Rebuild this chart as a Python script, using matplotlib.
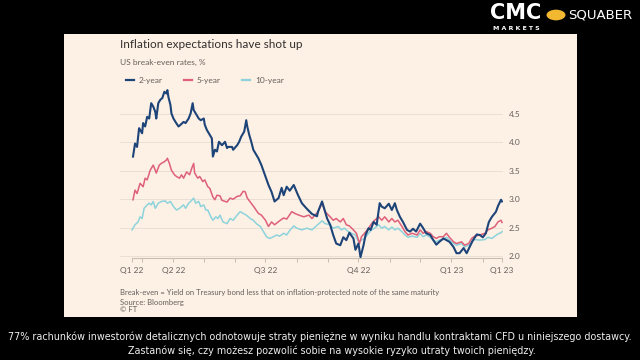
import numpy as np
import matplotlib
matplotlib.use('Agg')
import matplotlib.pyplot as plt
from matplotlib.patches import Rectangle, Circle

# US break-even rates (days after 19 Feb 2022, %)
start = np.datetime64('2022-02-19')

days_2y = [1, 3, 5, 7, 10, 11, 13, 15, 17, 19, 21, 23, 24, 26, 28, 30, 32, 34, 35, 36,
           38, 39, 41, 43, 46, 48, 51, 53, 56, 58, 60, 61, 63, 66, 68, 71, 72, 74, 77, 79,
           80, 82, 84, 86, 89, 92, 94, 95, 99, 100, 104, 106, 108, 111, 113, 114, 116, 118,
           120, 122, 125, 128, 132, 135, 138, 141, 145, 148, 150, 153, 156, 160, 164, 168,
           173, 178, 183, 184, 188, 190, 193, 196, 199, 202, 206, 209, 212, 215, 219, 221,
           224, 226, 229, 231, 234, 236, 239, 242, 245, 247, 250, 254, 257, 260, 262, 265,
           268, 272, 275, 278, 281, 285, 288, 291, 295, 298, 301, 304, 308, 311, 314, 318,
           321, 324, 328, 331, 334, 337, 341, 344, 347, 350, 353, 356, 360, 362, 365, 366]
rate_2y = [3.75, 3.98, 3.92, 4.25, 4.16, 4.34, 4.28, 4.45, 4.42, 4.69, 4.63, 4.54, 4.42,
           4.69, 4.75, 4.78, 4.89, 4.86, 4.92, 4.80, 4.66, 4.51, 4.42, 4.36, 4.28, 4.31,
           4.36, 4.34, 4.42, 4.51, 4.69, 4.57, 4.51, 4.42, 4.39, 4.42, 4.31, 4.22, 4.13,
           4.07, 3.75, 3.87, 3.84, 4.01, 3.95, 4.01, 3.90, 3.92, 3.92, 3.87, 3.95, 4.01,
           4.10, 4.19, 4.39, 4.28, 4.13, 4.01, 3.87, 3.81, 3.72, 3.60, 3.40, 3.25, 3.13,
           2.96, 3.02, 3.20, 3.07, 3.22, 3.15, 3.25, 3.08, 2.93, 2.83, 2.74, 2.70, 2.78,
           2.96, 2.84, 2.66, 2.55, 2.37, 2.22, 2.19, 2.33, 2.28, 2.41, 2.31, 2.11, 2.22,
           1.98, 2.19, 2.37, 2.49, 2.46, 2.60, 2.55, 2.93, 2.87, 2.84, 2.92, 2.81, 2.93,
           2.81, 2.69, 2.60, 2.46, 2.43, 2.48, 2.43, 2.57, 2.49, 2.40, 2.37, 2.28, 2.20,
           2.25, 2.31, 2.28, 2.25, 2.16, 2.05, 2.05, 2.14, 2.05, 2.16, 2.27, 2.38, 2.37,
           2.33, 2.40, 2.60, 2.69, 2.78, 2.88, 2.99, 2.96]

days_5y = [1, 3, 5, 8, 11, 13, 15, 18, 19, 21, 23, 24, 27, 29, 32, 34, 35, 37, 39, 42,
           44, 47, 49, 51, 54, 57, 59, 61, 62, 65, 67, 70, 72, 75, 77, 80, 82, 84, 87, 89,
           94, 97, 100, 104, 107, 110, 112, 114, 117, 120, 125, 128, 132, 135, 138, 141,
           146, 150, 153, 158, 161, 165, 170, 175, 178, 181, 184, 188, 191, 196, 199, 202,
           206, 209, 212, 215, 219, 222, 225, 227, 230, 234, 237, 240, 244, 247, 250, 254,
           257, 260, 263, 267, 270, 273, 277, 282, 285, 288, 291, 295, 298, 301, 304, 308,
           311, 314, 318, 321, 326, 329, 333, 336, 339, 344, 349, 352, 356, 359, 362, 365,
           366]
rate_5y = [2.99, 3.16, 3.10, 3.28, 3.22, 3.37, 3.34, 3.51, 3.54, 3.60, 3.51, 3.46, 3.60,
           3.63, 3.66, 3.69, 3.72, 3.63, 3.51, 3.43, 3.40, 3.37, 3.43, 3.37, 3.48, 3.43,
           3.54, 3.63, 3.46, 3.37, 3.40, 3.31, 3.34, 3.22, 3.19, 3.04, 2.99, 3.07, 3.06,
           2.98, 2.95, 3.02, 3.00, 3.05, 3.06, 3.14, 3.13, 3.02, 2.95, 2.88, 2.75, 2.72,
           2.63, 2.52, 2.60, 2.55, 2.62, 2.67, 2.65, 2.78, 2.75, 2.72, 2.69, 2.72, 2.66,
           2.72, 2.78, 2.93, 2.78, 2.69, 2.63, 2.66, 2.60, 2.66, 2.55, 2.53, 2.46, 2.40,
           2.22, 2.34, 2.40, 2.49, 2.57, 2.63, 2.69, 2.63, 2.69, 2.60, 2.66, 2.60, 2.63,
           2.52, 2.43, 2.37, 2.40, 2.37, 2.46, 2.40, 2.43, 2.40, 2.34, 2.31, 2.34, 2.34,
           2.40, 2.33, 2.25, 2.22, 2.25, 2.19, 2.22, 2.31, 2.35, 2.37, 2.40, 2.46, 2.49,
           2.52, 2.60, 2.63, 2.59]

days_10y = [0, 3, 6, 8, 10, 12, 15, 17, 19, 21, 23, 26, 29, 33, 35, 38, 41, 44, 47, 51,
            53, 56, 58, 61, 63, 66, 68, 71, 73, 75, 78, 80, 83, 85, 87, 90, 94, 97, 100,
            104, 107, 110, 113, 117, 120, 123, 127, 130, 133, 136, 140, 143, 146, 150, 153,
            156, 160, 163, 168, 173, 178, 183, 188, 191, 196, 199, 204, 207, 210, 214, 217,
            221, 224, 227, 230, 234, 237, 240, 244, 247, 250, 254, 257, 260, 263, 267, 270,
            273, 277, 282, 285, 288, 291, 295, 298, 301, 304, 308, 311, 314, 318, 321, 326,
            329, 333, 336, 339, 344, 349, 352, 356, 359, 362, 365, 366]
rate_10y = [2.46, 2.55, 2.60, 2.69, 2.66, 2.84, 2.90, 2.93, 2.90, 2.96, 2.84, 2.93, 2.96,
            2.97, 2.93, 2.96, 2.87, 2.81, 2.84, 2.90, 2.84, 2.93, 2.96, 3.02, 2.93, 2.96,
            2.87, 2.90, 2.81, 2.81, 2.69, 2.63, 2.69, 2.66, 2.72, 2.60, 2.57, 2.66, 2.63,
            2.72, 2.78, 2.75, 2.72, 2.66, 2.63, 2.57, 2.52, 2.43, 2.34, 2.31, 2.34, 2.37,
            2.35, 2.40, 2.37, 2.45, 2.53, 2.49, 2.46, 2.49, 2.46, 2.54, 2.62, 2.57, 2.55,
            2.49, 2.52, 2.46, 2.49, 2.43, 2.40, 2.37, 2.25, 2.28, 2.31, 2.40, 2.46, 2.49,
            2.55, 2.49, 2.52, 2.46, 2.51, 2.46, 2.49, 2.43, 2.37, 2.33, 2.35, 2.33, 2.40,
            2.34, 2.37, 2.33, 2.28, 2.25, 2.28, 2.29, 2.33, 2.28, 2.22, 2.19, 2.22, 2.16,
            2.19, 2.25, 2.29, 2.28, 2.29, 2.33, 2.31, 2.35, 2.39, 2.41, 2.43]

month_starts = ['2022-03-01', '2022-04-01', '2022-05-01', '2022-06-01', '2022-07-01',
                '2022-08-01', '2022-09-01', '2022-10-01', '2022-11-01', '2022-12-01',
                '2023-01-01', '2023-02-01']
quarter_dates = ['2022-02-19', '2022-04-01', '2022-07-01', '2022-10-01', '2023-01-01',
                 '2023-02-20']
quarter_labels = ['Q1 22', 'Q2 22', 'Q3 22', 'Q4 22', 'Q1 23', 'Q1 23']
y_ticks = [2.0, 2.5, 3.0, 3.5, 4.0, 4.5]


def to_days(dates):
    return (np.array(dates, dtype='datetime64[D]') - start).astype(int)


W, H = 640, 360
ft_bg = '#fdf0e5'
ft_text = '#33302e'
ft_grey = '#66605c'
ft_font = 'Lato'

fig = plt.figure(figsize=(6.4, 3.6), dpi=100, facecolor='black')

# FT panel
fig.add_artist(Rectangle((64 / W, 1 - 317 / H), (577 - 64) / W, (317 - 34) / H,
                         transform=fig.transFigure, facecolor=ft_bg, edgecolor='none',
                         zorder=0))

ax_l, ax_r, ax_t, ax_b = 120, 503, 88.4, 258.3
ax = fig.add_axes([ax_l / W, 1 - ax_b / H, (ax_r - ax_l) / W, (ax_b - ax_t) / H])
ax.set_facecolor('none')

ax.plot(days_10y, rate_10y, color='#8dd3dc', lw=1.1, label='10-year', zorder=3)
ax.plot(days_5y, rate_5y, color='#de6079', lw=1.1, label='5-year', zorder=4)
ax.plot(days_2y, rate_2y, color='#1d4478', lw=1.5, label='2-year', zorder=5)

px_per_day = 1.011
ax.set_xlim((ax_l - 132) / px_per_day, (ax_r - 132) / px_per_day)
ax.set_ylim(1.96, 4.95)

for s in ['top', 'left', 'right']:
    ax.spines[s].set_visible(False)
ax.spines['bottom'].set_color('#c9bdb2')
ax.spines['bottom'].set_linewidth(0.8)
ax.spines['bottom'].set_bounds(0, to_days(['2023-02-20'])[0])

ax.yaxis.tick_right()
ax.set_yticks(y_ticks)
ax.set_yticklabels(['%.1f' % v for v in y_ticks])
ax.tick_params(axis='y', length=0, pad=4, labelsize=6, labelcolor=ft_grey)
ax.grid(axis='y', color='#eadfd5', lw=0.7)

ax.set_xticks(to_days(quarter_dates))
ax.set_xticklabels(quarter_labels)
ax.set_xticks(to_days(month_starts), minor=True)
ax.tick_params(axis='x', which='both', length=3, width=0.7, color='#c9bdb2',
               direction='out', pad=3, labelsize=6, labelcolor=ft_grey)
for lbl in ax.get_xticklabels() + ax.get_yticklabels():
    lbl.set_family(ft_font)

handles, labels = ax.get_legend_handles_labels()
leg = ax.legend(handles[::-1], labels[::-1], loc='center left',
                bbox_to_anchor=(118 / W, 1 - 80 / H), bbox_transform=fig.transFigure,
                ncol=3, frameon=False, handlelength=1.0, handletextpad=0.6,
                columnspacing=2.5, prop={'family': ft_font, 'size': 6})
for t in leg.get_texts():
    t.set_color(ft_grey)
for ln in leg.get_lines():
    ln.set_linewidth(1.6)

fig.text(120 / W, 1 - 44 / H, 'Inflation expectations have shot up', family=ft_font,
         fontsize=8.5, color=ft_text, va='center', ha='left')
fig.text(120 / W, 1 - 62 / H, 'US break-even rates, %', family=ft_font, fontsize=6,
         color=ft_grey, va='center', ha='left')
fig.text(120 / W, 1 - 293 / H,
         'Break-even = Yield on Treasury bond less that on inflation-protected note of the same maturity',
         family=ft_font, fontsize=5.5, color=ft_grey, va='center', ha='left')
fig.text(120 / W, 1 - 302 / H, 'Source: Bloomberg', family=ft_font, fontsize=5.5,
         color=ft_grey, va='center', ha='left')
fig.text(120 / W, 1 - 310 / H, '\u00a9 FT', family=ft_font, fontsize=5.5,
         color=ft_grey, va='center', ha='left')

# logos top right
fig.text(490 / W, 1 - 13 / H, 'CMC', color='white', fontsize=15, fontweight='bold',
         va='center', ha='left')
fig.text(493 / W, 1 - 29 / H, 'M A R K E T S', color='white', fontsize=4.5,
         fontweight='bold', va='center', ha='left')
fig.add_artist(Circle((556 / W, 1 - 15 / H), 9.5 / W, transform=fig.transFigure,
                      facecolor='#f2b82f', edgecolor='none'))
fig.text(568 / W, 1 - 15 / H, 'SQUABER', color='white', fontsize=9.5,
         va='center', ha='left')

# disclaimer
fig.text(320 / W, 1 - 337 / H,
         '77% rachunków inwestorów detalicznych odnotowuje straty pieniężne w wyniku '
         'handlu kontraktami CFD u niniejszego dostawcy.',
         color='#eeeeee', fontsize=6.9, va='center', ha='center')
fig.text(332 / W, 1 - 351 / H,
         'Zastanów się, czy możesz pozwolić sobie na wysokie ryzyko utraty twoich pieniędzy.',
         color='#eeeeee', fontsize=6.9, va='center', ha='center')

fig.savefig('out.png', dpi=100, facecolor='black')
